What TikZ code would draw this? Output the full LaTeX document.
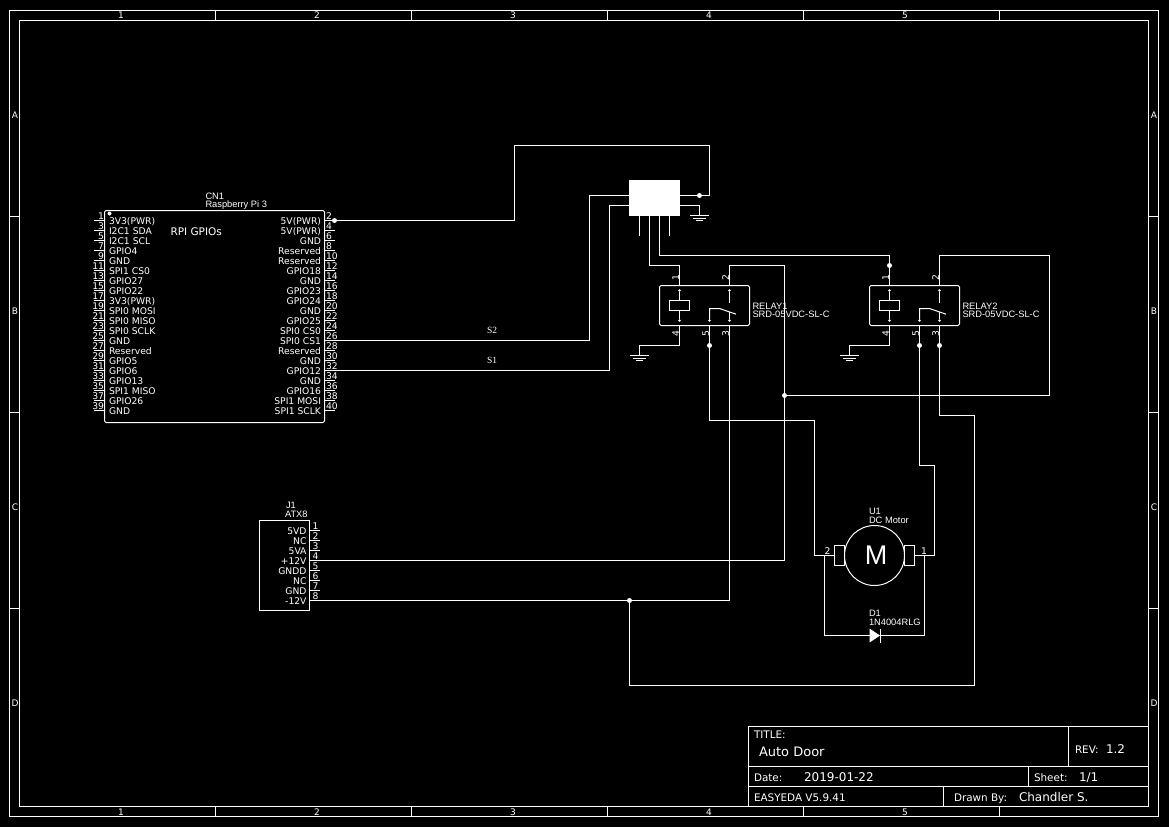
\documentclass[tikz,border=0pt]{standalone}
\usepackage{fontspec}
\setmainfont{DejaVu Sans}
\newfontfamily\libsans{Liberation Sans}
\newfontfamily\libserif{Liberation Serif}
\newcommand{\fs}[1]{\fontsize{#1}{#1}\selectfont}
\tikzset{
  wire/.style={draw=white,line width=1pt,line cap=rect},
  lbl/.style={text=white,inner sep=0pt,outer sep=0pt,font=\fs{9.2}},
  pinL/.style={lbl,anchor=base west},
  pinR/.style={lbl,anchor=base east},
  part/.style={lbl,anchor=base west,font=\libsans\fs{9.3}},
  border/.style={lbl,anchor=base,font=\fs{9}},
  tb/.style={lbl,anchor=base west,font=\fs{10.4}},
  tbv/.style={lbl,anchor=base west,font=\fs{12}},
  relpin/.style={lbl,rotate=90,anchor=base,font=\fs{9.2}},
  jun/.style={circle,fill=white,inner sep=0pt,minimum size=5pt},
  tiny/.style={circle,fill=white,inner sep=0pt,minimum size=2.8pt},
}
\begin{document}
\begin{tikzpicture}[x=1pt,y=-1pt]
\useasboundingbox (0.5,0) rectangle (1169.5,827);
\fill[black] (0.5,0) rectangle (1169.5,827);
% frame
\draw[wire] (10,10.5) rectangle (1159,816.5);
\draw[wire] (20,20.5) rectangle (1149,806.5);
\foreach \x in {216,412,608,804,1000}{
  \draw[wire] (\x,10.5) -- (\x,20.5);
  \draw[wire] (\x,806.5) -- (\x,816.5);
}
\foreach \x/\t [count=\i] in {121.5/1,317.5/2,513.5/3,709.5/4,905.5/5}{
  \node[border] (top\i) at (\x,18) {\t};
  \node[border] (bot\i) at (\x,815) {\t};
}
\foreach \y in {216.5,412.5,608.5}{
  \draw[wire] (10,\y) -- (20,\y);
  \draw[wire] (1149,\y) -- (1159,\y);
}
\foreach \y/\t in {118/A,314/B,510/C,706/D}{
  \node[border] (l\t) at (15.5,\y) {\t};
  \node[border] (r\t) at (1154.5,\y) {\t};
}
% title block
\draw[wire] (749,726.5) rectangle (1149,806.5);
\draw[wire] (749,766.5) -- (1149,766.5);
\draw[wire] (749,786.5) -- (1149,786.5);
\draw[wire] (1069,726.5) -- (1069,766.5);
\draw[wire] (1029,766.5) -- (1029,786.5);
\draw[wire] (944,786.5) -- (944,806.5);
\node[tb] (t1) at (754.5,738) {TITLE:};
\node[tbv,font=\fs{13}] (t2) at (759.5,756.5) {Auto Door};
\node[tb] (t3) at (1075.5,753) {REV:};
\node[tbv] (t4) at (1106.5,753) {1.2};
\node[tb] (t5) at (754.5,781) {Date:};
\node[tbv] (t6) at (804.5,781) {2019-01-22};
\node[tb] (t7) at (1034.5,781) {Sheet:};
\node[tbv] (t8) at (1079.5,781) {1/1};
\node[tb] (t9) at (754.5,801) {EASYEDA V5.9.41};
\node[tb] (t10) at (954.5,801) {Drawn By:};
\node[tbv] (t11) at (1019.5,801) {Chandler S.};
% CN1
\draw[wire,rounded corners=1.5pt] (105,210.5) rectangle (325,422.5);
\node[part] (cn1a) at (206,199.5) {CN1};
\node[part] (cn1b) at (206,207.5) {Raspberry Pi 3};
\node[tiny,minimum size=4pt] (cn1dot) at (110,213.5) {};
\node[lbl,font=\fs{10.5},anchor=base west] (cn1t) at (171,235.5) {RPI GPIOs};
\foreach \t [count=\i] in {3V3(PWR),I2C1 SDA,I2C1 SCL,GPIO4,GND,SPI1 CS0,GPIO27,GPIO22,3V3(PWR),SPI0 MOSI,SPI0 MISO,SPI0 SCLK,GND,Reserved,GPIO5,GPIO6,GPIO13,SPI1 MISO,GPIO26,GND}{
  \pgfmathsetmacro\yy{210.5+10*\i}
  \pgfmathtruncatemacro\num{2*\i-1}
  \coordinate (cnL\num) at (95,\yy);
  \coordinate (cnLi\num) at (105,\yy);
  \draw[wire] (cnL\num) -- (cnLi\num);
  \node[pinL] (cnLt\num) at (109.5,\yy+4.2) {\t};
  \node[pinR] (cnLn\num) at (104.5,\yy-0.7) {\num};
}
\foreach \t [count=\i] in {5V(PWR),5V(PWR),GND,Reserved,Reserved,GPIO18,GND,GPIO23,GPIO24,GND,GPIO25,SPI0 CS0,SPI0 CS1,Reserved,GND,GPIO12,GND,GPIO16,SPI1 MOSI,SPI1 SCLK}{
  \pgfmathsetmacro\yy{210.5+10*\i}
  \pgfmathtruncatemacro\num{2*\i}
  \coordinate (cnR\num) at (335,\yy);
  \coordinate (cnRi\num) at (325,\yy);
  \draw[wire] (cnRi\num) -- (cnR\num);
  \node[pinR] (cnRt\num) at (321.5,\yy+4.2) {\t};
  \node[pinL] (cnRn\num) at (326.5,\yy-0.7) {\num};
}
% J1
\draw[wire] (260,520.5) rectangle (310,610.5);
\node[part] (j1a) at (286.5,508) {J1};
\node[part] (j1b) at (285.5,517) {ATX8};
\foreach \t [count=\i] in {5VD,NC,5VA,+12V,GNDD,NC,GND,-12V}{
  \pgfmathsetmacro\yy{520.5+10*\i}
  \coordinate (jp\i) at (320,\yy);
  \coordinate (jpi\i) at (310,\yy);
  \draw[wire] (jpi\i) -- (jp\i);
  \node[pinR] (jt\i) at (307,\yy+4.2) {\t};
  \node[pinL] (jn\i) at (313,\yy-0.7) {\i};
}
% white module
\node[draw=white,fill=white,line width=1pt,minimum width=50pt,minimum height=35pt,inner sep=0pt,outer sep=0pt] (mod) at (655,198) {};
\coordinate (mL1) at (630,195.5);
\coordinate (mL2) at (630,205.5);
\coordinate (mR1) at (680,195.5);
\coordinate (mR2) at (680,205.5);
\foreach \x/\n in {640/a,650/b,660/c,670/d}{
  \coordinate (mB\n) at (\x,215.5);
  \coordinate (mE\n) at (\x,235);
  \draw[wire] (mB\n) -- (mE\n);
}
% relays
\foreach \dx/\nm [count=\r] in {0/1,210/2}{
  \begin{scope}[xshift=\dx pt]
    \draw[wire,rounded corners=1.5pt] (660,285.5) rectangle (750,325.5);
    \node[tiny] (r\r a) at (680,290.5) {};
    \node[tiny] (r\r b) at (730,290.5) {};
    \node[tiny] (r\r c) at (680,320.5) {};
    \node[tiny] (r\r d) at (710,320.5) {};
    \node[tiny] (r\r e) at (730,320.5) {};
    \draw[wire] (670,300.5) rectangle (690,310.5);
    \coordinate (r\r ct) at (680,300.5);
    \coordinate (r\r cb) at (680,310.5);
    \draw[wire] (r\r a) -- (r\r ct);
    \draw[wire] (r\r cb) -- (r\r c);
    \coordinate (r\r s) at (730,302);
    \draw[wire] (r\r b) -- (r\r s);
    \draw[wire] (r\r d) -- (710,308.5) -- (720,308.5) -- (736,314);
    \coordinate (r\r m) at (730,312);
    \draw[wire] (r\r m) -- (r\r e);
    \coordinate (r\r p1) at (680,285.5);
    \coordinate (r\r p2) at (730,285.5);
    \coordinate (r\r p4) at (680,325.5);
    \coordinate (r\r p5) at (710,325.5);
    \coordinate (r\r p3) at (730,325.5);
    \node[relpin] (r\r n1) at (679.5,277.5) {1};
    \node[relpin] (r\r n2) at (729.5,277.5) {2};
    \node[relpin] (r\r n4) at (679.5,333.5) {4};
    \node[relpin] (r\r n5) at (709.5,333.5) {5};
    \node[relpin] (r\r n3) at (729.5,333.5) {3};
    \node[part] (r\r na) at (753,309) {RELAY\nm};
    \node[part] (r\r nb) at (753,317.3) {SRD-05VDC-SL-C};
  \end{scope}
}
% ground symbols
\foreach \x/\y/\n in {700/215.5/g0,640/355.5/g1,850/355.5/g2}{
  \coordinate (\n) at (\x,\y);
  \draw[wire] (\x-9,\y) -- (\x+9,\y);
  \draw[wire] (\x-6,\y+2.5) -- (\x+6,\y+2.5);
  \draw[wire] (\x-3,\y+5) -- (\x+3,\y+5);
}
% motor
\node[draw=white,circle,line width=1pt,minimum size=60pt,inner sep=0pt,outer sep=0pt] (mot) at (875,555.5) {};
\draw[wire] (835,545.5) rectangle (845,565.5);
\draw[wire] (905,545.5) rectangle (915,565.5);
\node[lbl,font=\libsans\fs{27},anchor=base] (motM) at (876.5,564.5) {M};
\node[part] (u1a) at (869.5,514) {U1};
\node[part] (u1b) at (869.5,523) {DC Motor};
\node[lbl,anchor=base west] (mpin2) at (825,554) {2};
\node[lbl,anchor=base west] (mpin1) at (921.5,554) {1};
\coordinate (mp2) at (825,555.5);
\coordinate (mp2i) at (835,555.5);
\coordinate (mp1) at (925,555.5);
\coordinate (mp1i) at (915,555.5);
% diode
\coordinate (da) at (870,635.5);
\coordinate (dc) at (881,635.5);
\fill[white] (870,628.5) -- (880.5,635.5) -- (870,642.5) -- cycle;
\draw[wire,line cap=butt] (881,628.5) -- (881,642.5);
\node[part] (d1a) at (869.5,616) {D1};
\node[part] (d1b) at (869.5,625) {1N4004RLG};
% junctions
\node[jun] (j2) at (335,220.5) {};
\node[jun] (jtop) at (700,195.5) {};
\node[jun] (jr2) at (890,265.5) {};
\node[jun] (j5a) at (710,345.5) {};
\node[jun] (j5b) at (920,345.5) {};
\node[jun] (j3b) at (940,345.5) {};
\node[jun] (j12) at (785,395.5) {};
\node[jun] (jneg) at (630,600.5) {};
% wires
\coordinate (w1) at (515,145.5);
\coordinate (w2) at (710,145.5);
\coordinate (w3) at (710,195.5);
\draw[wire] (j2.center) -| (w1) -- (w2) -- (w3) -- (mR1);
\draw[wire] (mR2) -| (g0);
\coordinate (w4) at (590,195.5);
\draw[wire] (cnR26) -| (w4) -- (mL1);
\coordinate (w5) at (610,205.5);
\draw[wire] (cnR32) -| (w5) -- (mL2);
\coordinate (w6) at (650,265.5);
\draw[wire] (mEb) -- (w6) -- (r1p1 |- w6) -- (r1p1);
\coordinate (w7) at (660,255.5);
\draw[wire] (mEc) -- (w7) -| (r2p1);
\coordinate (w8) at (785,265.5);
\draw[wire] (r1p2) |- (w8) |- (jp4);
\coordinate (w9) at (1050,255.5);
\draw[wire] (r2p2) |- (w9) |- (j12.center);
\coordinate (w10) at (640,345.5);
\draw[wire] (r1p4) |- (w10) -- (g1);
\coordinate (w11) at (850,345.5);
\draw[wire] (r2p4) |- (w11) -- (g2);
\coordinate (w12) at (815,420.5);
\draw[wire] (r1p5) |- (w12) |- (mp2i);
\coordinate (w13) at (730,600.5);
\draw[wire] (r1p3) -- (w13) -- (jp8);
\coordinate (w14) at (975,415.5);
\coordinate (w15) at (630,685.5);
\draw[wire] (r2p3) |- (w14) |- (w15) -- (jneg.center);
\coordinate (w16) at (935,465.5);
\draw[wire] (r2p5) |- (w16) |- (mp1i);
\draw[wire] (mp2) |- (da);
\draw[wire] (mp1) |- (dc);
% net labels
\node[lbl,font=\libserif\fs{9.5},anchor=base west] (s2) at (487.5,333) {S2};
\node[lbl,font=\libserif\fs{9.5},anchor=base west] (s1) at (487.5,363) {S1};
\end{tikzpicture}
\end{document}
